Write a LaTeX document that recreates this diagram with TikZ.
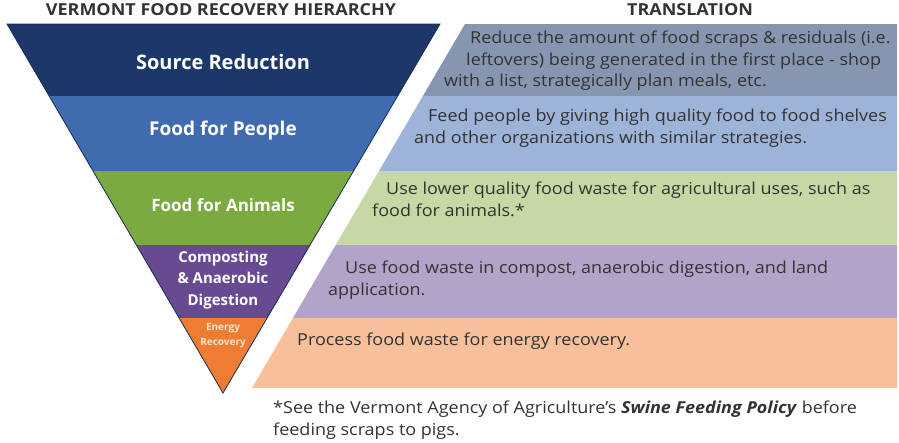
\documentclass[tikz,border=0pt]{standalone}
\usepackage{fontspec}
\setmainfont{Open Sans}
\newfontfamily\widefont[FakeStretch=1.09]{Open Sans}
\usepackage{tikz}

\definecolor{srcblue}{HTML}{1C3769}
\definecolor{peopleblue}{HTML}{3F6BAF}
\definecolor{animalgreen}{HTML}{7AAA40}
\definecolor{compostpurple}{HTML}{684A93}
\definecolor{energyorange}{HTML}{EE7D33}
\definecolor{srclight}{HTML}{8796B0}
\definecolor{peoplelight}{HTML}{9DB3D7}
\definecolor{animallight}{HTML}{C6D8A3}
\definecolor{compostlight}{HTML}{B2A3C8}
\definecolor{energylight}{HTML}{F7C09B}
\definecolor{inktext}{HTML}{333333}

\tikzset{
  level/.style={text=white, align=center},
  meaning/.style={text=inktext, font=\widefont\fontsize{16.5}{21.5}\selectfont, align=left, anchor=base west, inner sep=0pt},
  heading/.style={text=inktext, font=\widefont\fontsize{16.5}{20}\selectfont\bfseries}
}

\begin{document}
\begin{tikzpicture}[x=1pt,y=-1pt]

\useasboundingbox (0,0) rectangle (899,442);

\def\funnel{(7,24) -- (440,24) -- (223,393) -- cycle}
\def\ledger{(465,24) -- (897,24) -- (897,388) -- (252,388) -- cycle}

% the hierarchy
\begin{scope}
\clip \funnel;
\fill [srcblue] (0,24) rectangle (450,96);
\fill [peopleblue] (0,96) rectangle (450,171);
\fill [animalgreen] (0,171) rectangle (450,245);
\fill [compostpurple] (0,245) rectangle (450,318);
\fill [energyorange] (0,318) rectangle (450,395);
\end{scope}
\draw [srcblue!80!black, line width=0.8pt, line join=miter] \funnel;

% the translation
\begin{scope}
\clip \ledger;
\fill [srclight] (240,24) rectangle (899,96);
\fill [peoplelight] (240,96) rectangle (899,171);
\fill [animallight] (240,171) rectangle (899,245);
\fill [compostlight] (240,245) rectangle (899,318);
\fill [energylight] (240,318) rectangle (899,388);
\end{scope}

\node [heading] (hierarchy) at (221,10) {VERMONT FOOD RECOVERY HIERARCHY};
\node [heading] (translation) at (690,10) {TRANSLATION};

\node [level, font=\fontsize{20}{24}\selectfont\bfseries] (source) at (223,62) {Source Reduction};
\node [level, font=\fontsize{19}{22}\selectfont\bfseries] (people) at (223,131) {Food for People};
\node [level, font=\fontsize{17}{20}\selectfont\bfseries] (animals) at (223,205) {Food for Animals};
\node [level, font=\fontsize{15}{21.5}\selectfont\bfseries] (compost) at (223,280) {Composting\\\& Anaerobic\\Digestion};
\node [level, text=white!80!orange, font=\fontsize{10}{15}\selectfont\bfseries] (energy) at (223,336) {Energy\\Recovery};

% base anchor sits on the last line
\node [meaning] (sourcetext) at (444,86.7)
  {\hspace*{26pt}Reduce the amount of food scraps \& residuals (i.e.\\
   \hspace*{22pt}leftovers) being generated in the first place - shop\\
   with a list, strategically plan meals, etc.};
\node [meaning] (peopletext) at (414,143.3)
  {\hspace*{14pt}Feed people by giving high quality food to food shelves\\
   and other organizations with similar strategies.};
\node [meaning] (animaltext) at (372,216)
  {\hspace*{14pt}Use lower quality food waste for agricultural uses, such as\\
   food for animals.*};
\node [meaning] (composttext) at (328,295)
  {\hspace*{17pt}Use food waste in compost, anaerobic digestion, and land\\
   application.};
\node [meaning] (energytext) at (297,345)
  {Process food waste for energy recovery.};

\node [meaning] (footnote) at (273,435)
  {*See the Vermont Agency of Agriculture’s \textbf{\textit{Swine Feeding Policy}} before\\
   feeding scraps to pigs.};

\end{tikzpicture}
\end{document}
